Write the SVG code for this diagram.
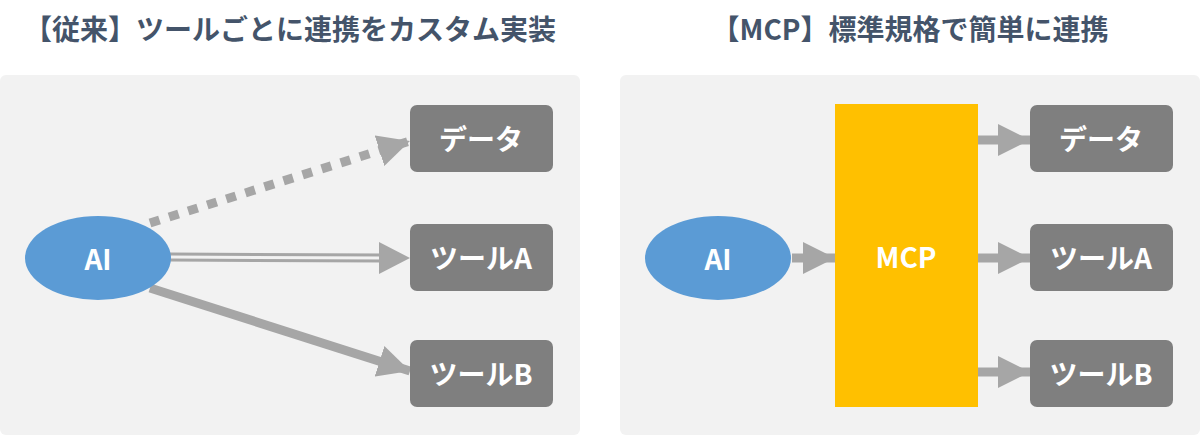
<svg xmlns="http://www.w3.org/2000/svg" width="1200" height="435" viewBox="0 0 1200 435">
<style>
.t{font-family:"Noto Sans CJK JP","Noto Sans",sans-serif;font-weight:bold;font-size:28px;fill:#44546a;text-anchor:middle}
.l{font-family:"Noto Sans CJK JP","Noto Sans",sans-serif;font-weight:bold;font-size:28px;fill:#fff;text-anchor:middle;dominant-baseline:central}
.box{fill:#7f7f7f}
.ln{stroke:#a6a6a6;fill:none}
</style>
<defs>
<marker id="ah" viewBox="0 0 10 10" refX="10" refY="5" markerWidth="32" markerHeight="32" markerUnits="userSpaceOnUse" orient="auto"><path d="M0,0L10,5L0,10z" fill="#a6a6a6"/></marker>
</defs>
<rect x="0" y="75" width="580" height="360" rx="6" fill="#f2f2f2"/>
<rect x="620" y="75" width="580" height="360" rx="6" fill="#f2f2f2"/>
<text class="t" x="290" y="40">【従来】ツールごとに連携をカスタム実装</text>
<text class="t" x="910" y="40">【MCP】標準規格で簡単に連携</text>
<g id="connectors">
<line class="ln" x1="150" y1="223" x2="410" y2="141" stroke-width="9" stroke-dasharray="10,10" marker-end="url(#ah)"/>
<line class="ln" x1="170" y1="254" x2="385" y2="255" stroke-width="3"/>
<line class="ln" x1="170" y1="260" x2="385" y2="261" stroke-width="3"/>
<path d="M379,242L410,258L379,274z" fill="#a6a6a6"/>
<line class="ln" x1="150" y1="288" x2="410" y2="371" stroke-width="9" marker-end="url(#ah)"/>
<line class="ln" x1="792" y1="258" x2="835" y2="258" stroke-width="9" marker-end="url(#ah)"/>
<line class="ln" x1="978" y1="140" x2="1030" y2="140" stroke-width="9" marker-end="url(#ah)"/>
<line class="ln" x1="978" y1="258" x2="1030" y2="258" stroke-width="9" marker-end="url(#ah)"/>
<line class="ln" x1="978" y1="372" x2="1030" y2="372" stroke-width="9" marker-end="url(#ah)"/>
</g>
<g id="ai1"><ellipse cx="98" cy="258" rx="73" ry="42" fill="#5b9bd5"/><text class="l" x="98" y="258">AI</text></g>
<g id="data1"><rect class="box" x="410" y="105" width="143" height="67" rx="7"/><text class="l" x="481" y="138">データ</text></g>
<g id="toolA1"><rect class="box" x="410" y="224" width="143" height="67" rx="7"/><text class="l" x="481" y="257">ツールA</text></g>
<g id="toolB1"><rect class="box" x="410" y="340" width="143" height="67" rx="7"/><text class="l" x="481" y="373">ツールB</text></g>
<g id="ai2"><ellipse cx="718" cy="258" rx="73" ry="42" fill="#5b9bd5"/><text class="l" x="718" y="258">AI</text></g>
<g id="mcp"><rect x="835" y="104" width="143" height="303" fill="#ffc000"/><text class="l" x="906" y="256">MCP</text></g>
<g id="data2"><rect class="box" x="1030" y="105" width="143" height="67" rx="7"/><text class="l" x="1101" y="138">データ</text></g>
<g id="toolA2"><rect class="box" x="1030" y="224" width="143" height="67" rx="7"/><text class="l" x="1101" y="257">ツールA</text></g>
<g id="toolB2"><rect class="box" x="1030" y="340" width="143" height="67" rx="7"/><text class="l" x="1101" y="373">ツールB</text></g>
</svg>
